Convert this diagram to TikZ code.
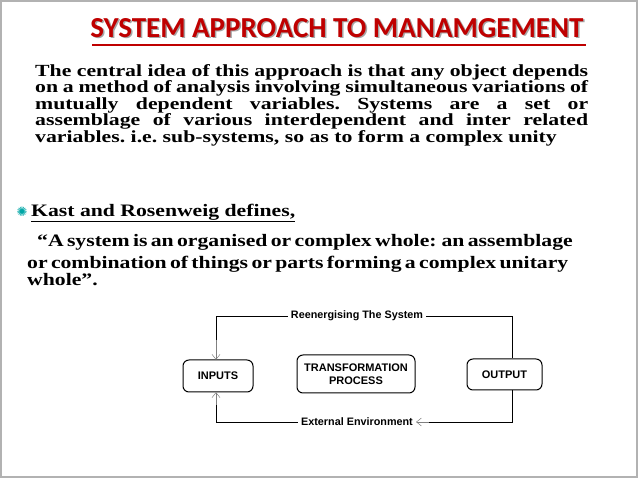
\documentclass[tikz,border=0pt]{standalone}
\usepackage{fontspec}
\setmainfont{Liberation Serif}
\newfontfamily\arial{Liberation Sans}
\newfontfamily\carl{Carlito}
\newfontfamily\wideserif[FakeStretch=1.28]{Liberation Serif}
\newfontfamily\quoteserif[FakeStretch=1.24]{Liberation Serif}
\usetikzlibrary{arrows.meta}
\begin{document}
\begin{tikzpicture}[x=1pt,y=-1pt,
  box/.style={draw,line width=1pt,rounded corners=6pt,font=\arial\bfseries\fontsize{11}{12.5}\selectfont,align=center,inner sep=0pt},
  lab/.style={font=\arial\bfseries\fontsize{10.8}{12}\selectfont,inner sep=3pt},
  wire/.style={line width=0.9pt},
  tip/.style={-{Straight Barb[length=5pt,width=8pt,line width=0.5pt]}}]
\useasboundingbox (0,0) rectangle (638,478);
\draw[gray!60,line width=1.5pt] (1,1) rectangle (637,477);
% title
\node[text=black!35] at (338.5,29.5) {\carl\bfseries\fontsize{29}{32}\selectfont SYSTEM APPROACH TO MANAMGEMENT};
\node[text=red!75!black] (title) at (337,28) {\carl\bfseries\fontsize{29}{32}\selectfont SYSTEM APPROACH TO MANAMGEMENT};
\draw[red!75!black,line width=2pt] (92,45) -- (586,45);
% body
\node[anchor=north west,text width=553pt,align=justify,inner sep=0pt] (body) at (35,64)
 {\frenchspacing\wideserif\bfseries\fontsize{17}{22}\selectfont The central idea of this approach is that any object depends\linebreak on a method of analysis involving simultaneous variations of\linebreak mutually dependent variables. Systems are a set or\linebreak assemblage of various interdependent and inter related\linebreak variables. i.e. sub-systems, so as to form a complex unity};
\node[text=teal!70!cyan,inner sep=0pt] (star) at (22,212) {\fontspec{DejaVu Sans}\fontsize{13}{13}\selectfont ✺};
\node[anchor=west,inner sep=0pt] (kast) at (31,213) {\quoteserif\bfseries\fontsize{17.5}{22}\selectfont\underline{Kast and Rosenweig defines,}};
\node[anchor=north west,text width=590pt,align=left,inner sep=0pt] (quote) at (27,234)
 {\quoteserif\bfseries\fontsize{17.5}{22}\selectfont\hspace*{10pt}“A system is an organised or complex whole: an assemblage\\or combination of things or parts forming a complex unitary\\whole”.};
% diagram
\node[box,minimum width=70pt,minimum height=32pt] (in) at (218,376) {INPUTS};
\node[box,minimum width=118pt,minimum height=38pt] (tp) at (356,374) {TRANSFORMATION\\PROCESS};
\node[box,minimum width=75pt,minimum height=31pt] (out) at (504.5,374.5) {OUTPUT};
\node[lab] (re) at (357,316) {Reenergising The System};
\node[lab] (ee) at (357,422) {External Environment};
\coordinate (tl) at (216,316);
\coordinate (tr) at (512,316);
\coordinate (bl) at (216,422);
\coordinate (br) at (512,422);
\draw[wire] (re.west) -- (tl) -- (216,340);
\draw[tip,line width=0.5pt,gray] (216,340) -- (216,359.8);
\draw[wire] (re.east) -- (tr) -- (out.north -| tr);
\draw[wire] (out.south -| br) -- (br) -- (427,422);
\draw[tip,line width=0.5pt,gray] (429,422) -- (ee.east);
\draw[wire] (ee.west) -- (bl) -- (216,405);
\draw[tip,line width=0.5pt,gray] (216,405) -- (216,392.2);
\end{tikzpicture}
\end{document}
